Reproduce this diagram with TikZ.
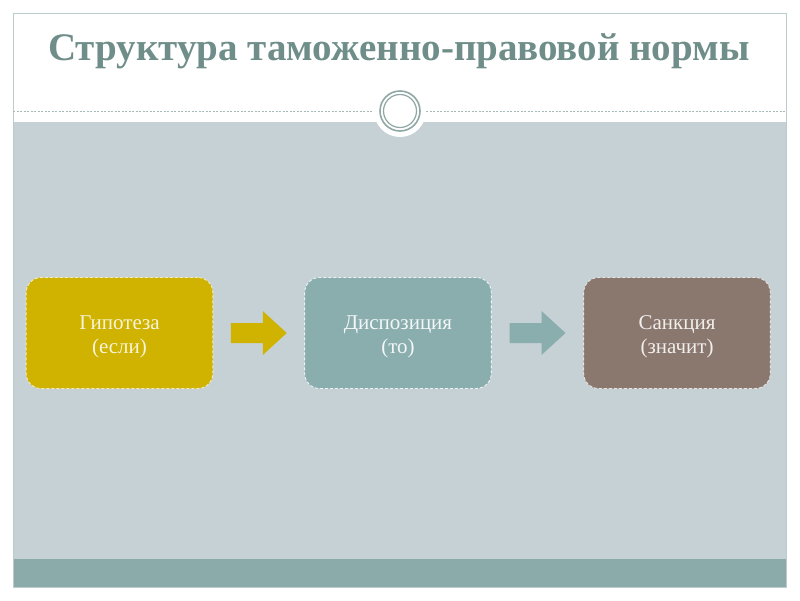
\documentclass[tikz,border=0pt]{standalone}
\usepackage{fontspec}
\setmainfont{Liberation Serif}
\usetikzlibrary{calc}
\definecolor{panelgray}{HTML}{C6D1D5}
\definecolor{bandteal}{HTML}{8BABAB}
\definecolor{titlec}{HTML}{6F8E89}
\definecolor{goldc}{HTML}{CFB300}
\definecolor{tealc}{HTML}{8AADAE}
\definecolor{brownc}{HTML}{8A776E}
\definecolor{framec}{HTML}{BCCBCB}
\definecolor{ringc}{HTML}{8FA8A6}
\tikzset{
  stagebox/.style={rounded corners=15pt, minimum width=186pt, minimum height=111pt,
    draw, dashed, dash pattern=on 3pt off 2pt, line width=0.9pt,
    align=center, font=\fontsize{21}{24}\selectfont}
}
\newcommand{\blockarrowat}[2]{%
  \fill[#2] ($(#1)+(-28,-10)$) -- ($(#1)+(4,-10)$) -- ($(#1)+(4,-22)$) -- ($(#1)+(28,0)$)
    -- ($(#1)+(4,22)$) -- ($(#1)+(4,10)$) -- ($(#1)+(-28,10)$) -- cycle;}
\newcommand{\lowered}[1]{\raisebox{-4pt}[\height][\depth]{\parbox{180pt}{\centering #1}}}
\begin{document}
\begin{tikzpicture}[x=1pt,y=-1pt]
\useasboundingbox (0,0) rectangle (800,600);
\fill[white] (0,0) rectangle (800,600);
% panel
\fill[panelgray] (13,122) rectangle (786,559);
\fill[bandteal] (13,559) rectangle (786,587);
\draw[framec, line width=1pt] (13,587) -- (13,13) -- (786,13) -- (786,587) -- cycle;
% dotted separator
\draw[ringc!80, line width=0.6pt, dash pattern=on 2pt off 1.5pt] (13,111) -- (786,111);
% medallion
\fill[white] (400,111) circle (26);
\draw[ringc, line width=1.6pt] (400,111) circle (20);
\draw[ringc, line width=1.2pt] (400,111) circle (16.5);
% title
\node[titlec, font=\fontsize{39}{46}\bfseries\selectfont, anchor=base] (title) at (399,60) {Структура таможенно-правовой нормы};
% boxes
\node[stagebox, fill=goldc, draw=goldc!25!white, text=goldc!15!white] (hyp) at (119.5,333) {\lowered{Гипотеза\\(если)}};
\node[stagebox, fill=tealc, draw=white!85!tealc, text=white!90!tealc] (disp) at (398,333) {\lowered{Диспозиция\\(то)}};
\node[stagebox, fill=brownc, draw=white!80!brownc, text=white!88!brownc] (sanc) at (677,333) {\lowered{Санкция\\(значит)}};
% arrows
\coordinate (m1) at ($(hyp.east)!0.5!(disp.west)$);
\coordinate (m2) at ($(disp.east)!0.5!(sanc.west)$);
\blockarrowat{m1}{goldc}
\blockarrowat{m2}{tealc}
\end{tikzpicture}
\end{document}
